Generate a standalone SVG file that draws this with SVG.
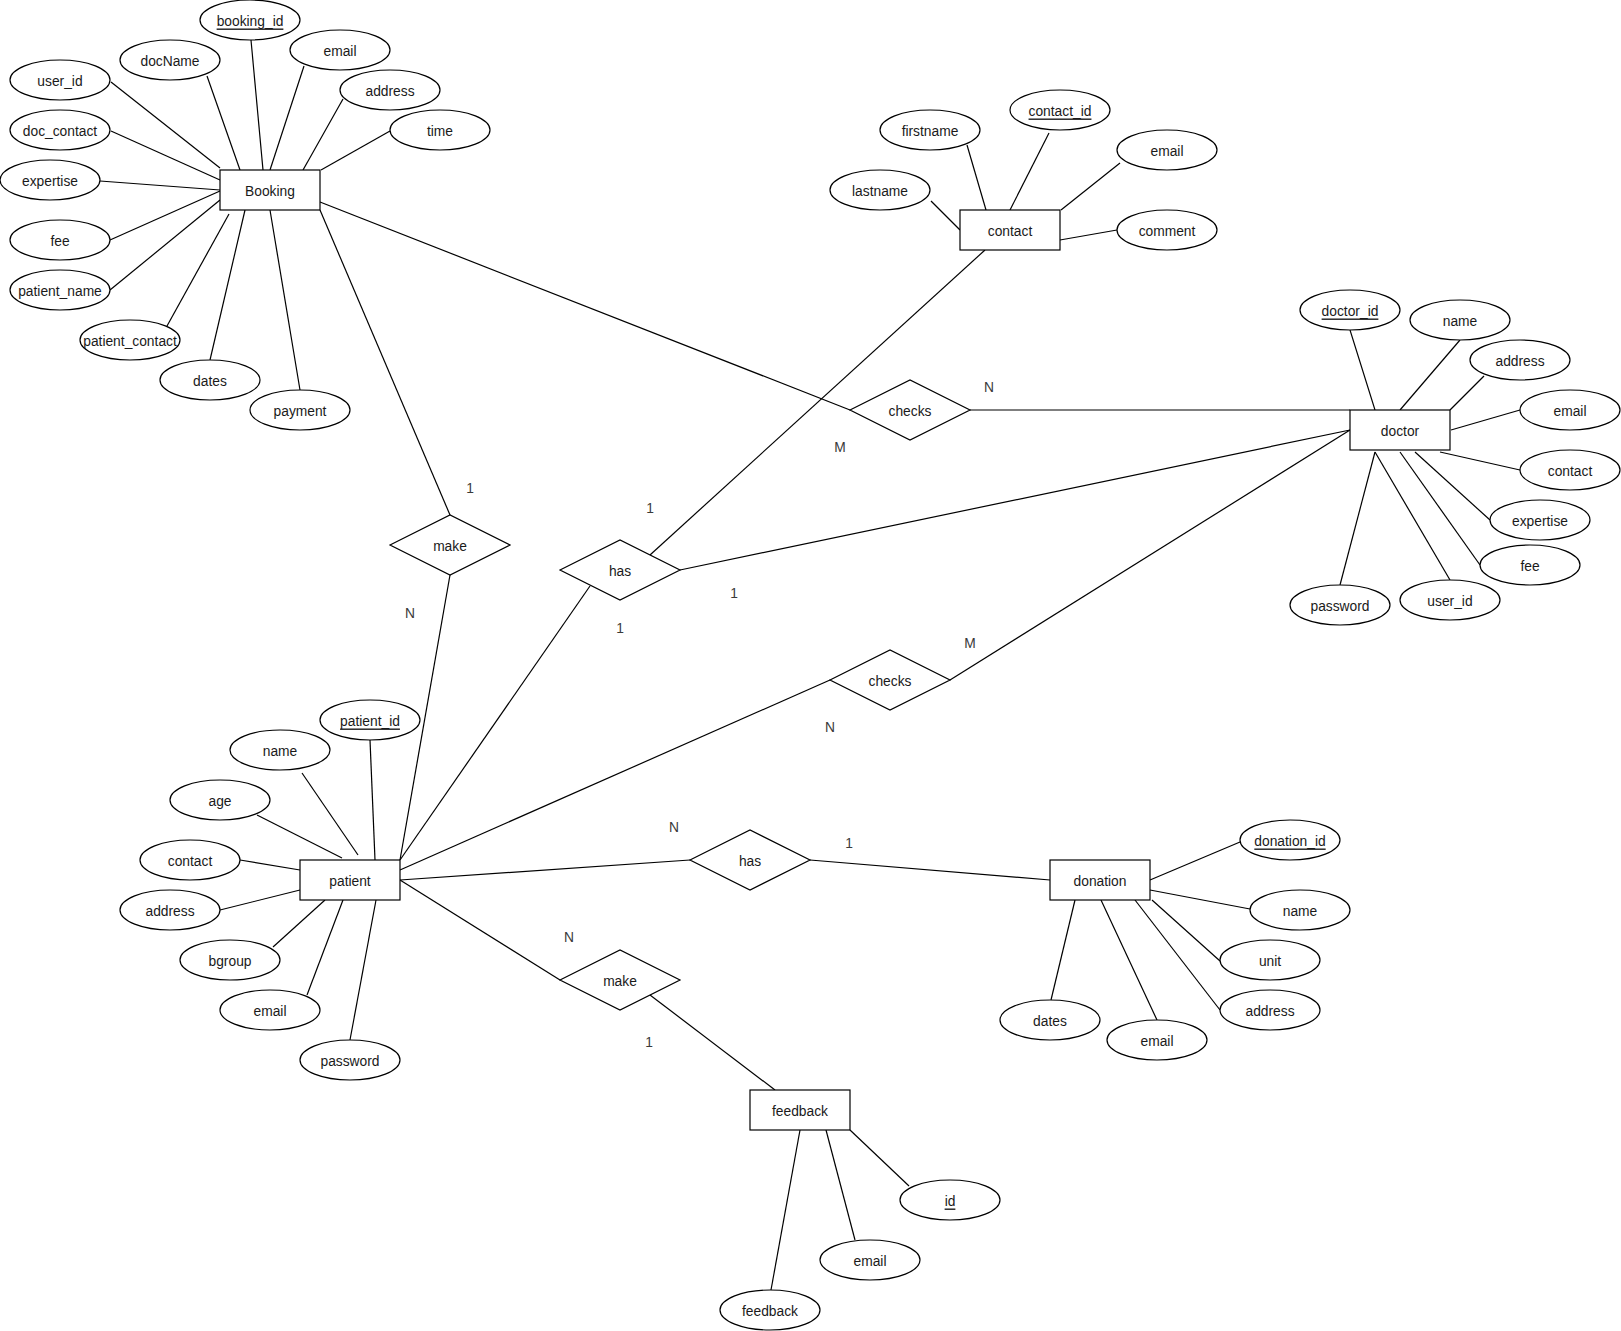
<svg xmlns="http://www.w3.org/2000/svg" width="1621" height="1331" viewBox="0 0 1621 1331">
<style>
.bg{fill:#fff}
.e,.r,.d{fill:#fff;stroke:#000;stroke-width:1.2}
.c line{stroke:#000;stroke-width:1.2}
text{font-family:"Liberation Sans",Arial,Helvetica,sans-serif;font-size:13.8px;fill:#1a1a1a;text-anchor:middle;dominant-baseline:central;transform:translateY(1px)}
.k{text-decoration:underline}
.lbl{fill:#3a3a3a}
</style>
<rect class="bg" x="0" y="0" width="1621" height="1331"/>
<g id="connectors" class="c">
<line x1="251" y1="40" x2="263" y2="170"/>
<line x1="207" y1="76" x2="240" y2="170"/>
<line x1="304" y1="66" x2="270" y2="170"/>
<line x1="343" y1="99" x2="303" y2="170"/>
<line x1="390" y1="131" x2="321" y2="170"/>
<line x1="111" y1="82" x2="220" y2="168"/>
<line x1="111" y1="131" x2="220" y2="180"/>
<line x1="100" y1="181" x2="220" y2="190"/>
<line x1="110" y1="240" x2="220" y2="191"/>
<line x1="110" y1="290" x2="220" y2="200"/>
<line x1="167" y1="326" x2="229" y2="214"/>
<line x1="210" y1="360" x2="245" y2="210"/>
<line x1="300" y1="390" x2="270" y2="210"/>
<line x1="1350" y1="330" x2="1375" y2="410"/>
<line x1="1460" y1="340" x2="1400" y2="410"/>
<line x1="1484" y1="376" x2="1450" y2="410"/>
<line x1="1520" y1="410" x2="1451" y2="430"/>
<line x1="1520" y1="470" x2="1440" y2="452"/>
<line x1="1490" y1="520" x2="1415" y2="452"/>
<line x1="1480" y1="565" x2="1400" y2="452"/>
<line x1="1450" y1="580" x2="1375" y2="452"/>
<line x1="1340" y1="585" x2="1375" y2="452"/>
<line x1="967" y1="145" x2="986" y2="210"/>
<line x1="1049" y1="133" x2="1010" y2="210"/>
<line x1="1120" y1="163" x2="1061" y2="210"/>
<line x1="931" y1="201" x2="960" y2="230"/>
<line x1="1117" y1="230" x2="1060" y2="240"/>
<line x1="370" y1="740" x2="375" y2="860"/>
<line x1="302" y1="773" x2="358" y2="855"/>
<line x1="257" y1="815" x2="342" y2="858"/>
<line x1="240" y1="860" x2="300" y2="870"/>
<line x1="220" y1="910" x2="300" y2="890"/>
<line x1="273" y1="947" x2="325" y2="900"/>
<line x1="307" y1="995" x2="343" y2="900"/>
<line x1="350" y1="1040" x2="376" y2="900"/>
<line x1="1240" y1="842" x2="1150" y2="880"/>
<line x1="1250" y1="909" x2="1150" y2="890"/>
<line x1="1220" y1="961" x2="1152" y2="900"/>
<line x1="1220" y1="1010" x2="1135" y2="900"/>
<line x1="1157" y1="1020" x2="1101" y2="900"/>
<line x1="1051" y1="1000" x2="1075" y2="900"/>
<line x1="909" y1="1186" x2="850" y2="1130"/>
<line x1="855" y1="1240" x2="826" y2="1130"/>
<line x1="771" y1="1290" x2="800" y2="1130"/>
<line x1="320" y1="210" x2="450" y2="515"/>
<line x1="320" y1="202" x2="850" y2="410"/>
<line x1="970" y1="410" x2="1350" y2="410"/>
<line x1="985" y1="250" x2="650" y2="555"/>
<line x1="680" y1="570" x2="1350" y2="430"/>
<line x1="590" y1="586" x2="400" y2="860"/>
<line x1="450" y1="575" x2="400" y2="860"/>
<line x1="950" y1="680" x2="1350" y2="430"/>
<line x1="830" y1="680" x2="400" y2="870"/>
<line x1="400" y1="880" x2="690" y2="860"/>
<line x1="810" y1="860" x2="1050" y2="880"/>
<line x1="400" y1="880" x2="560" y2="980"/>
<line x1="650" y1="995" x2="775" y2="1090"/>
</g>
<g id="labels">
<text class="lbl" x="470" y="487">1</text>
<text class="lbl" x="410" y="612">N</text>
<text class="lbl" x="650" y="507">1</text>
<text class="lbl" x="840" y="446">M</text>
<text class="lbl" x="989" y="386">N</text>
<text class="lbl" x="734" y="592">1</text>
<text class="lbl" x="620" y="627">1</text>
<text class="lbl" x="970" y="642">M</text>
<text class="lbl" x="830" y="726">N</text>
<text class="lbl" x="674" y="826">N</text>
<text class="lbl" x="849" y="842">1</text>
<text class="lbl" x="569" y="936">N</text>
<text class="lbl" x="649" y="1041">1</text>
</g>
<g id="booking"><rect class="r" x="220" y="170" width="100" height="40"/><text x="270" y="190">Booking</text></g>
<g id="booking_booking_id"><ellipse class="e" cx="250" cy="20" rx="50" ry="20"/><text class="k" x="250" y="20">booking_id</text></g>
<g id="booking_docName"><ellipse class="e" cx="170" cy="60" rx="50" ry="20"/><text x="170" y="60">docName</text></g>
<g id="booking_email"><ellipse class="e" cx="340" cy="50" rx="50" ry="20"/><text x="340" y="50">email</text></g>
<g id="booking_address"><ellipse class="e" cx="390" cy="90" rx="50" ry="20"/><text x="390" y="90">address</text></g>
<g id="booking_time"><ellipse class="e" cx="440" cy="130" rx="50" ry="20"/><text x="440" y="130">time</text></g>
<g id="booking_user_id"><ellipse class="e" cx="60" cy="80" rx="50" ry="20"/><text x="60" y="80">user_id</text></g>
<g id="booking_doc_contact"><ellipse class="e" cx="60" cy="130" rx="50" ry="20"/><text x="60" y="130">doc_contact</text></g>
<g id="booking_expertise"><ellipse class="e" cx="50" cy="180" rx="50" ry="20"/><text x="50" y="180">expertise</text></g>
<g id="booking_fee"><ellipse class="e" cx="60" cy="240" rx="50" ry="20"/><text x="60" y="240">fee</text></g>
<g id="booking_patient_name"><ellipse class="e" cx="60" cy="290" rx="50" ry="20"/><text x="60" y="290">patient_name</text></g>
<g id="booking_patient_contact"><ellipse class="e" cx="130" cy="340" rx="50" ry="20"/><text x="130" y="340">patient_contact</text></g>
<g id="booking_dates"><ellipse class="e" cx="210" cy="380" rx="50" ry="20"/><text x="210" y="380">dates</text></g>
<g id="booking_payment"><ellipse class="e" cx="300" cy="410" rx="50" ry="20"/><text x="300" y="410">payment</text></g>
<g id="contact"><rect class="r" x="960" y="210" width="100" height="40"/><text x="1010" y="230">contact</text></g>
<g id="contact_firstname"><ellipse class="e" cx="930" cy="130" rx="50" ry="20"/><text x="930" y="130">firstname</text></g>
<g id="contact_contact_id"><ellipse class="e" cx="1060" cy="110" rx="50" ry="20"/><text class="k" x="1060" y="110">contact_id</text></g>
<g id="contact_email"><ellipse class="e" cx="1167" cy="150" rx="50" ry="20"/><text x="1167" y="150">email</text></g>
<g id="contact_lastname"><ellipse class="e" cx="880" cy="190" rx="50" ry="20"/><text x="880" y="190">lastname</text></g>
<g id="contact_comment"><ellipse class="e" cx="1167" cy="230" rx="50" ry="20"/><text x="1167" y="230">comment</text></g>
<g id="doctor"><rect class="r" x="1350" y="410" width="100" height="40"/><text x="1400" y="430">doctor</text></g>
<g id="doctor_doctor_id"><ellipse class="e" cx="1350" cy="310" rx="50" ry="20"/><text class="k" x="1350" y="310">doctor_id</text></g>
<g id="doctor_name"><ellipse class="e" cx="1460" cy="320" rx="50" ry="20"/><text x="1460" y="320">name</text></g>
<g id="doctor_address"><ellipse class="e" cx="1520" cy="360" rx="50" ry="20"/><text x="1520" y="360">address</text></g>
<g id="doctor_email"><ellipse class="e" cx="1570" cy="410" rx="50" ry="20"/><text x="1570" y="410">email</text></g>
<g id="doctor_contact"><ellipse class="e" cx="1570" cy="470" rx="50" ry="20"/><text x="1570" y="470">contact</text></g>
<g id="doctor_expertise"><ellipse class="e" cx="1540" cy="520" rx="50" ry="20"/><text x="1540" y="520">expertise</text></g>
<g id="doctor_fee"><ellipse class="e" cx="1530" cy="565" rx="50" ry="20"/><text x="1530" y="565">fee</text></g>
<g id="doctor_user_id"><ellipse class="e" cx="1450" cy="600" rx="50" ry="20"/><text x="1450" y="600">user_id</text></g>
<g id="doctor_password"><ellipse class="e" cx="1340" cy="605" rx="50" ry="20"/><text x="1340" y="605">password</text></g>
<g id="checks1"><polygon class="d" points="850,410 910,380 970,410 910,440"/><text x="910" y="410">checks</text></g>
<g id="make1"><polygon class="d" points="390,545 450,515 510,545 450,575"/><text x="450" y="545">make</text></g>
<g id="has1"><polygon class="d" points="560,570 620,540 680,570 620,600"/><text x="620" y="570">has</text></g>
<g id="checks2"><polygon class="d" points="830,680 890,650 950,680 890,710"/><text x="890" y="680">checks</text></g>
<g id="has2"><polygon class="d" points="690,860 750,830 810,860 750,890"/><text x="750" y="860">has</text></g>
<g id="make2"><polygon class="d" points="560,980 620,950 680,980 620,1010"/><text x="620" y="980">make</text></g>
<g id="patient"><rect class="r" x="300" y="860" width="100" height="40"/><text x="350" y="880">patient</text></g>
<g id="patient_patient_id"><ellipse class="e" cx="370" cy="720" rx="50" ry="20"/><text class="k" x="370" y="720">patient_id</text></g>
<g id="patient_name"><ellipse class="e" cx="280" cy="750" rx="50" ry="20"/><text x="280" y="750">name</text></g>
<g id="patient_age"><ellipse class="e" cx="220" cy="800" rx="50" ry="20"/><text x="220" y="800">age</text></g>
<g id="patient_contact"><ellipse class="e" cx="190" cy="860" rx="50" ry="20"/><text x="190" y="860">contact</text></g>
<g id="patient_address"><ellipse class="e" cx="170" cy="910" rx="50" ry="20"/><text x="170" y="910">address</text></g>
<g id="patient_bgroup"><ellipse class="e" cx="230" cy="960" rx="50" ry="20"/><text x="230" y="960">bgroup</text></g>
<g id="patient_email"><ellipse class="e" cx="270" cy="1010" rx="50" ry="20"/><text x="270" y="1010">email</text></g>
<g id="patient_password"><ellipse class="e" cx="350" cy="1060" rx="50" ry="20"/><text x="350" y="1060">password</text></g>
<g id="donation"><rect class="r" x="1050" y="860" width="100" height="40"/><text x="1100" y="880">donation</text></g>
<g id="donation_donation_id"><ellipse class="e" cx="1290" cy="840" rx="50" ry="20"/><text class="k" x="1290" y="840">donation_id</text></g>
<g id="donation_name"><ellipse class="e" cx="1300" cy="910" rx="50" ry="20"/><text x="1300" y="910">name</text></g>
<g id="donation_unit"><ellipse class="e" cx="1270" cy="960" rx="50" ry="20"/><text x="1270" y="960">unit</text></g>
<g id="donation_address"><ellipse class="e" cx="1270" cy="1010" rx="50" ry="20"/><text x="1270" y="1010">address</text></g>
<g id="donation_dates"><ellipse class="e" cx="1050" cy="1020" rx="50" ry="20"/><text x="1050" y="1020">dates</text></g>
<g id="donation_email"><ellipse class="e" cx="1157" cy="1040" rx="50" ry="20"/><text x="1157" y="1040">email</text></g>
<g id="feedback"><rect class="r" x="750" y="1090" width="100" height="40"/><text x="800" y="1110">feedback</text></g>
<g id="feedback_id"><ellipse class="e" cx="950" cy="1200" rx="50" ry="20"/><text class="k" x="950" y="1200">id</text></g>
<g id="feedback_email"><ellipse class="e" cx="870" cy="1260" rx="50" ry="20"/><text x="870" y="1260">email</text></g>
<g id="feedback_feedback"><ellipse class="e" cx="770" cy="1310" rx="50" ry="20"/><text x="770" y="1310">feedback</text></g>
</svg>
